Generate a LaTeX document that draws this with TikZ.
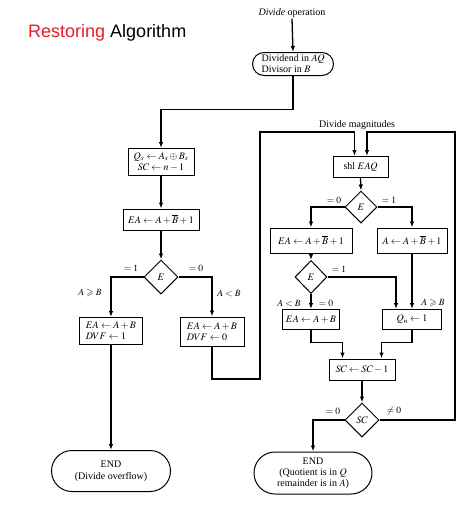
\documentclass[tikz,border=0pt]{standalone}
\usepackage{mathptmx}
\usepackage{amssymb}
\usepackage{fontspec}
\setmainfont{Liberation Serif}
\newfontfamily\titlefont{Liberation Sans}
\usetikzlibrary{shapes.misc,shapes.geometric,arrows.meta}
\definecolor{titlered}{RGB}{225,30,40}
\begin{document}
\begin{tikzpicture}[x=1pt,y=-1pt,
  font=\fontsize{10}{11}\selectfont,
  proc/.style={draw,line width=1pt,inner sep=0pt,align=center},
  term/.style={draw,line width=1pt,rounded rectangle,inner sep=0pt,align=center},
  dec/.style={draw,line width=1pt,diamond,inner sep=0pt,minimum width=34pt,minimum height=34pt},
  conn/.style={line width=1.3pt,-{Latex[length=6pt,width=4.5pt]}},
  lab/.style={font=\fontsize{9.5}{11}\selectfont,inner sep=0pt}]
\fill[white] (0,0) rectangle (474,517);
\useasboundingbox (0,0) rectangle (474,517);

\node[font=\titlefont\fontsize{18}{20}\selectfont,anchor=west,inner sep=0pt] (title) at (28,33)
  {\textcolor{titlered}{Restoring} Algorithm};

\node[inner sep=1pt] (divop) at (292,13) {\textit{Divide} operation};
\node[term,minimum width=81pt,minimum height=23pt,align=left] (start) at (293,64)
  {Dividend in $AQ$\\Divisor in $B$};

\node[proc,minimum width=66pt,minimum height=27pt] (qs) at (161,162)
  {$Q_s\leftarrow A_s\oplus B_s$\\$SC\leftarrow n-1$};
\node[proc,minimum width=76pt,minimum height=21pt] (ea1) at (161,219.5)
  {$EA\leftarrow A+\overline{B}+1$};
\node[dec] (e1) at (161,277) {$E$};
\node[proc,minimum width=63pt,minimum height=27pt,align=left] (lbox) at (111,331)
  {$EA\leftarrow A+B$\\$DVF\leftarrow 1$};
\node[proc,minimum width=64pt,minimum height=29pt,align=left] (rbox) at (212,331.5)
  {$EA\leftarrow A+B$\\$DVF\leftarrow 0$};
\node[term,minimum width=119pt,minimum height=41pt,font=\fontsize{10}{12}\selectfont] (endL) at (111,471)
  {END\\(Divide overflow)};

\node[inner sep=1pt] (dm) at (357,125) {Divide magnitudes};
\node[proc,minimum width=55pt,minimum height=21pt] (shl) at (360.5,167) {shl $EAQ$};
\node[dec,minimum width=32pt,minimum height=32pt] (e2) at (361,207) {$E$};
\node[proc,minimum width=82pt,minimum height=25pt] (ea2) at (311,240.5)
  {$EA\leftarrow A+\overline{B}+1$};
\node[proc,minimum width=70pt,minimum height=25pt] (a2) at (412,240.5)
  {$A\leftarrow A+\overline{B}+1$};
\node[dec,minimum width=32pt,minimum height=33pt] (e3) at (311,277) {$E$};
\node[proc,minimum width=57pt,minimum height=20pt] (ea3) at (311,319.5)
  {$EA\leftarrow A+B$};
\node[proc,minimum width=59pt,minimum height=20pt] (qn) at (412,319.5)
  {$Q_n\leftarrow 1$};
\node[proc,minimum width=66pt,minimum height=21pt] (sc) at (362,369.5)
  {$SC\leftarrow SC-1$};
\node[dec] (scd) at (362,420) {$SC$};
\node[term,minimum width=118pt,minimum height=42pt,font=\fontsize{10}{11}\selectfont] (endR) at (313,473)
  {END\\(Quotient is in $Q$\\remainder is in $A$)};

% coordinates for loops
\coordinate (lp1) at (260,379);
\coordinate (lp2) at (260,132);
\coordinate (rp1) at (455,420);
\coordinate (rp2) at (455,132);

% connectors
\draw[conn] (divop.south) -- (start.north);
\draw[conn] (start.south) -- ++(0,33.5) -| (qs.north);
\draw[conn] (qs.south) -- (ea1.north);
\draw[conn] (ea1.south) -- (e1.north);
\draw[conn] (e1.west) -| (lbox.north);
\draw[conn] (e1.east) -| (rbox.north);
\draw[conn] (lbox.south) -- (endL.north);
\draw[conn] (rbox.south) |- (lp1) -- (lp2) -| ([xshift=-6pt]shl.north);
\draw[conn] (shl.south) -- (e2.north);
\draw[conn] (e2.west) -| (ea2.north);
\draw[conn] (e2.east) -| (a2.north);
\draw[conn] (ea2.south) -- (e3.north);
\draw[conn] (e3.south) -- (ea3.north);
\draw[conn] (e3.east) -| ([xshift=-16pt]qn.north);
\draw[conn] (a2.south) -- (qn.north);
\draw[conn] (ea3.south) -- ++(0,12.5) -| ([xshift=-19.5pt]sc.north);
\draw[conn] (qn.south) -- ++(0,12.5) -| ([xshift=19.5pt]sc.north);
\draw[conn] (sc.south) -- (scd.north);
\draw[conn] (scd.east) -- (rp1) -- (rp2) -| ([xshift=6.5pt]shl.north);
\draw[conn] (scd.west) -| (endR.north);

% labels
\node[lab] (l1) at (131,268) {$=1$};
\node[lab] (l2) at (196,268) {$=0$};
\node[lab] (l3) at (90,293) {$A\geqslant B$};
\node[lab] (l4) at (229,293) {$A<B$};
\node[lab] (l5) at (334,200) {$=0$};
\node[lab] (l6) at (389,200) {$=1$};
\node[lab] (l7) at (339,269) {$=1$};
\node[lab] (l8) at (289,303) {$A<B$};
\node[lab] (l9) at (326,303) {$=0$};
\node[lab] (l10) at (433,303) {$A\geqslant B$};
\node[lab] (l11) at (333,411) {$=0$};
\node[lab] (l12) at (394,411) {$\neq0$};
\end{tikzpicture}
\end{document}
